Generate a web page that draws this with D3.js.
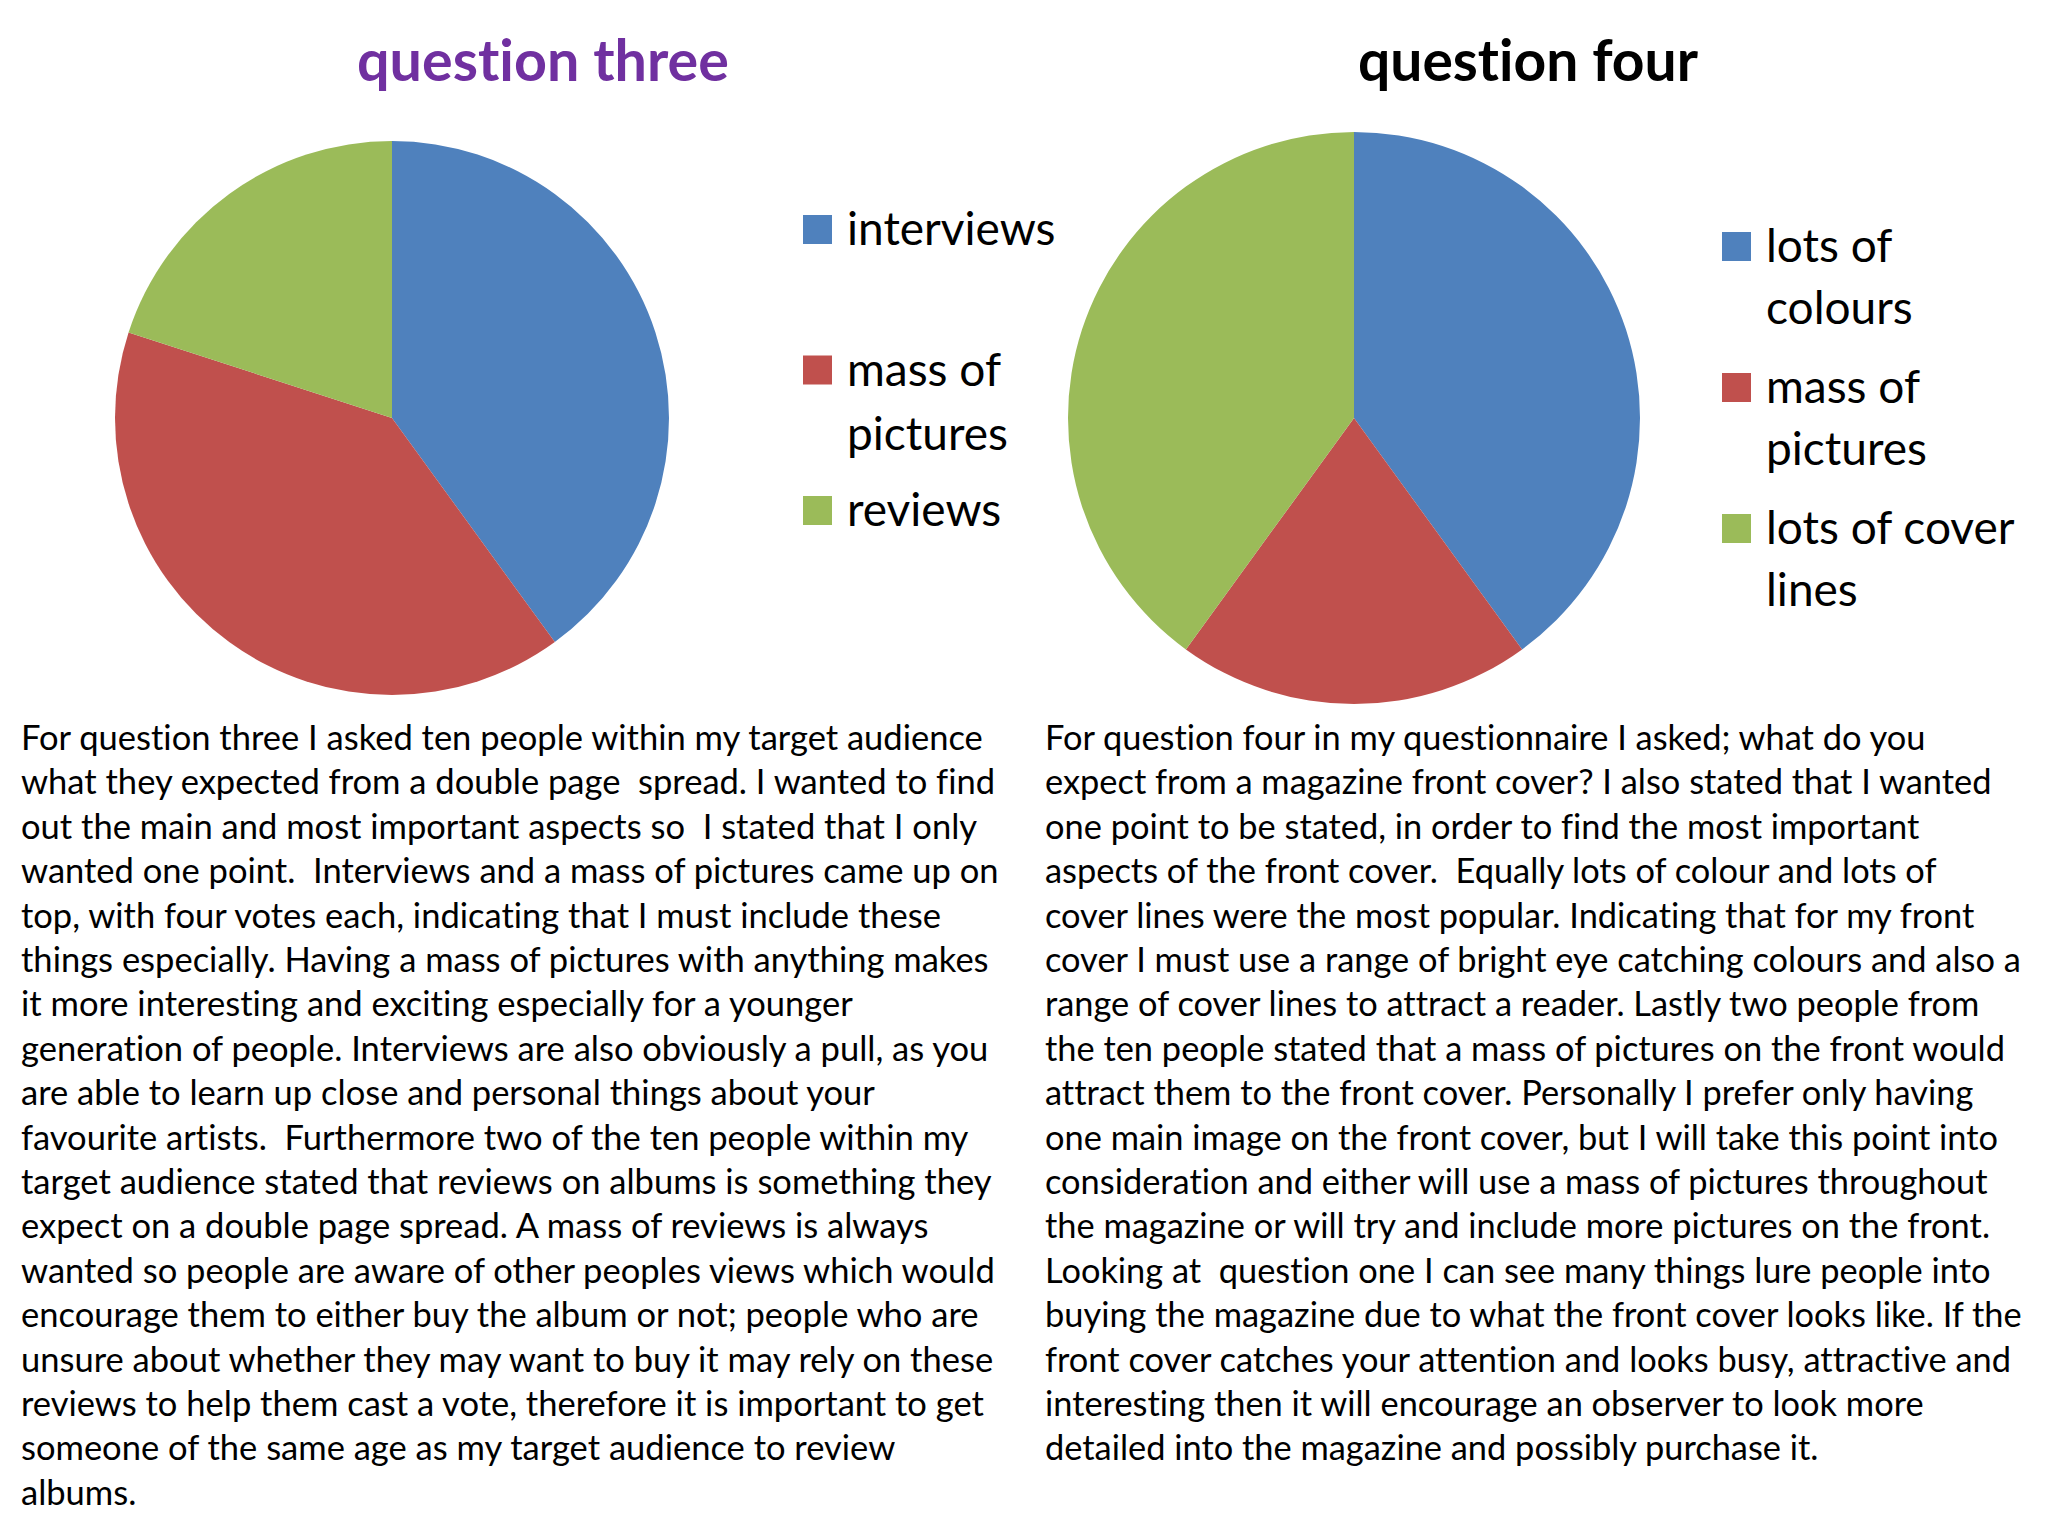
<!DOCTYPE html>
<html>
<head>
<meta charset="utf-8">
<script src="https://cdn.jsdelivr.net/npm/d3@7"></script>
<style>
  body { margin: 0; background: #fff; }
  svg text { font-family: Lato, "Open Sans", sans-serif; white-space: pre; font-variant-ligatures: none; }
</style>
</head>
<body>
<svg id="slide" width="2048" height="1536"></svg>
<script>
// chart data
const q3Labels = [["interviews"], ["mass of", "pictures"], ["reviews"]];
const q3Votes = [4, 4, 2];
const q4Labels = [["lots of", "colours"], ["mass of", "pictures"], ["lots of cover", "lines"]];
const q4Votes = [4, 2, 4];
const sliceColors = ["#4F81BD", "#C0504D", "#9BBB59"];

const q3Text = [
  "For question three I asked ten people within my target audience",
  "what they expected from a double page  spread. I wanted to find",
  "out the main and most important aspects so  I stated that I only",
  "wanted one point.  Interviews and a mass of pictures came up on",
  "top, with four votes each, indicating that I must include these",
  "things especially. Having a mass of pictures with anything makes",
  "it more interesting and exciting especially for a younger",
  "generation of people. Interviews are also obviously a pull, as you",
  "are able to learn up close and personal things about your",
  "favourite artists.  Furthermore two of the ten people within my",
  "target audience stated that reviews on albums is something they",
  "expect on a double page spread. A mass of reviews is always",
  "wanted so people are aware of other peoples views which would",
  "encourage them to either buy the album or not; people who are",
  "unsure about whether they may want to buy it may rely on these",
  "reviews to help them cast a vote, therefore it is important to get",
  "someone of the same age as my target audience to review",
  "albums."
];
const q4Text = [
  "For question four in my questionnaire I asked; what do you",
  "expect from a magazine front cover? I also stated that I wanted",
  "one point to be stated, in order to find the most important",
  "aspects of the front cover.  Equally lots of colour and lots of",
  "cover lines were the most popular. Indicating that for my front",
  "cover I must use a range of bright eye catching colours and also a",
  "range of cover lines to attract a reader. Lastly two people from",
  "the ten people stated that a mass of pictures on the front would",
  "attract them to the front cover. Personally I prefer only having",
  "one main image on the front cover, but I will take this point into",
  "consideration and either will use a mass of pictures throughout",
  "the magazine or will try and include more pictures on the front.",
  "Looking at  question one I can see many things lure people into",
  "buying the magazine due to what the front cover looks like. If the",
  "front cover catches your attention and looks busy, attractive and",
  "interesting then it will encourage an observer to look more",
  "detailed into the magazine and possibly purchase it."
];

const svg = d3.select("#slide");

// titles
function title(text, cx, color, width) {
  const t = svg.append("text")
    .attr("x", 0).attr("y", 81)
    .attr("font-size", 58).attr("font-weight", 700)
    .attr("fill", color)
    .text(text);
  const k = width / t.node().getComputedTextLength();
  t.attr("transform", `translate(${cx - width / 2},0) scale(${k},1)`);
}
title("question three", 543, "#7030A0", 372);
title("question four", 1528, "#000000", 340);

// pies
const pie = d3.pie().sort(null).value(d => d);
function drawPie(votes, cx, cy, r) {
  const arc = d3.arc().innerRadius(0).outerRadius(r);
  svg.append("g")
    .attr("transform", `translate(${cx},${cy})`)
    .selectAll("path")
    .data(pie(votes))
    .join("path")
    .attr("d", arc)
    .attr("fill", (d, i) => sliceColors[i]);
}
drawPie(q3Votes, 392, 418, 277);
drawPie(q4Votes, 1354, 418, 286);

// legends
function legend(labels, x, y0, step, lineStep) {
  const g = svg.append("g");
  labels.forEach((lines, i) => {
    const y = y0 + i * step;
    g.append("rect")
      .attr("x", x).attr("y", y - 28)
      .attr("width", 29).attr("height", 29)
      .attr("fill", sliceColors[i]);
    lines.forEach((ln, j) => {
      g.append("text")
        .attr("x", x + 44).attr("y", y + 2 + j * lineStep)
        .attr("font-size", 46).attr("fill", "#000")
        .text(ln);
    });
  });
}
legend(q3Labels, 803, 243, 140.5, 64);
legend(q4Labels, 1722, 260, 141, 62);

// body paragraphs, squeezed horizontally to the column width
function paragraph(lines, x, y0, width) {
  const g = svg.append("g");
  const texts = lines.map((ln, i) => g.append("text")
    .attr("x", 0).attr("y", y0 + i * 44.4)
    .attr("font-size", 34).attr("fill", "#000")
    .text(ln));
  const maxW = d3.max(texts, t => t.node().getComputedTextLength());
  g.attr("transform", `translate(${x},0) scale(${width / maxW},1)`);
}
paragraph(q3Text, 21, 750, 978);
paragraph(q4Text, 1045, 750, 977);
</script>
</body>
</html>
